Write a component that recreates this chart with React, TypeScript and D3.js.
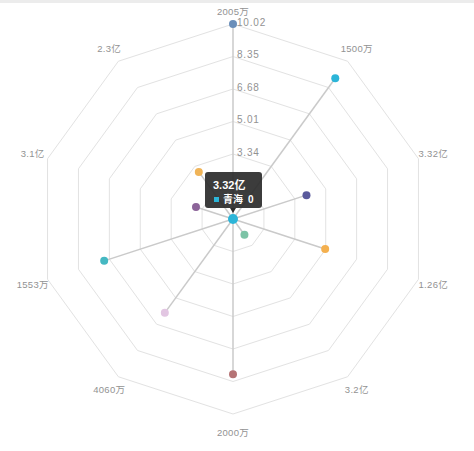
import * as d3 from "d3";

const width = 474;
const height = 451;
const cx = 233;
const cy = 219;
const outerR = 195;

// axis names, clockwise from the top
const indicators = ["2005万", "1500万", "3.32亿", "1.26亿", "3.2亿", "2000万", "4060万", "1553万", "3.1亿", "2.3亿"];
const values = [10.02, 8.94, 3.97, 4.98, 1.0, 7.98, 5.96, 6.96, 2.0, 2.99];
const colors = ["#6b8fba", "#2cb5d8", "#5a5a9c", "#f4b04f", "#7cc3a6", "#b57375", "#e2c6e2", "#45b8c2", "#8c6499", "#f0b458"];
const ringTicks = [1.67, 3.34, 5.01, 6.68, 8.35, 10.02];
const tickLabels = ["3.34", "5.01", "6.68", "8.35", "10.02"];
const tipTitle = "3.32亿";
const tipSeries = "青海";
const tipValue = 0;

const font = "'Liberation Sans', 'Noto Sans CJK SC', sans-serif";

const App = () => {
  const r = d3.scaleLinear().domain([0, 10.02]).range([0, outerR]);
  const angle = d3.scaleLinear().domain([0, indicators.length]).range([0, 2 * Math.PI]);
  const pos = (i: number, v: number): [number, number] => {
    const a = angle(i);
    return [cx + Math.sin(a) * r(v), cy - Math.cos(a) * r(v)];
  };

  const ring = (v: number) => {
    const pts = indicators.map((_, i) => pos(i, v));
    return d3.line()(pts.concat([pts[0]])) as string;
  };

  const tipIndex = indicators.indexOf(tipTitle);
  const [tx, ty] = pos(tipIndex, tipValue);

  return (
    <svg width={width} height={height} style={{ position: "absolute", left: 0, top: 0, background: "#fff" }}>
      <rect x={0} y={0} width={width} height={3} fill="#ececec" />
      {ringTicks.map((t) => (
        <path key={t} d={ring(t)} fill="none" stroke="#e2e2e2" strokeWidth={1} />
      ))}
      {tickLabels.map((t) => (
        <text key={t} x={cx + 4} y={cy - r(+t) + 1.5} fontSize={10} fill="#929292" fontFamily={font} letterSpacing={0.8}>
          {t}
        </text>
      ))}
      {indicators.map((name, i) => {
        const [x, y] = pos(i, 10.02 * 1.08);
        const c = Math.cos(angle(i));
        const dy = c < -0.9 ? 3 : c > 0.9 ? 3 : 0;
        return (
          <text key={name} x={x} y={y + dy} fontSize={9.5} fill="#929292" fontFamily={font} textAnchor="middle" dominantBaseline="central" letterSpacing={0.3}>
            {name}
          </text>
        );
      })}
      {values.map((v, i) => {
        const [x, y] = pos(i, v);
        return <line key={"l" + i} x1={cx} y1={cy} x2={x} y2={y} stroke="#cacaca" strokeWidth={1.5} />;
      })}
      {values.map((v, i) => {
        const [x, y] = pos(i, v);
        return <circle key={"c" + i} cx={x} cy={y} r={4} fill={colors[i]} />;
      })}
      <circle cx={tx} cy={ty} r={5} fill="#2cb5d8" />
      <g>
        <rect x={205} y={172} width={57} height={36} rx={3} fill="#2b2b2b" fillOpacity={0.92} />
        <path d={`M${tx - 3},208 L${tx + 3},208 L${tx},213 Z`} fill="#2b2b2b" />
        <text x={213} y={189} fontSize={11} fontWeight="bold" fill="#fff" fontFamily={font}>
          {tipTitle}
        </text>
        <rect x={214} y={197} width={5} height={5} fill="#2cb5d8" />
        <text x={223} y={203} fontSize={10} fontWeight="bold" fill="#fff" fontFamily={font}>
          {tipSeries}
        </text>
        <text x={248} y={203} fontSize={10} fontWeight="bold" fill="#fff" fontFamily={font}>
          {tipValue}
        </text>
      </g>
    </svg>
  );
};

export default App;
